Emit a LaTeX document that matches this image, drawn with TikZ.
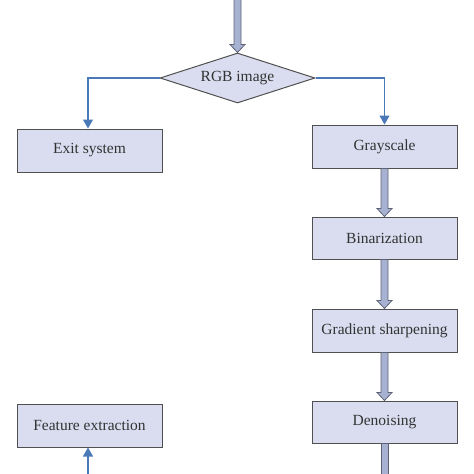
\documentclass[tikz,border=0pt]{standalone}
\usepackage{fontspec}
\setmainfont{Liberation Serif}
\usetikzlibrary{arrows.meta,shapes.geometric,calc}
\definecolor{boxfill}{HTML}{DADDF0}
\definecolor{boxline}{HTML}{505050}
\definecolor{fatfill}{HTML}{A7B1D2}
\definecolor{fatline}{HTML}{5E6274}
\definecolor{flowblue}{HTML}{4A78B8}
\newcommand{\fatarrow}[2]{\draw [fat] let \p1=(#1), \p2=(#2) in
  (\x2-3.5pt,\y1) -- (\x2-3.5pt,\y2+8pt) -- (\x2-7.5pt,\y2+8pt) -- (\x2,\y2)
  -- (\x2+7.5pt,\y2+8pt) -- (\x2+3.5pt,\y2+8pt) -- (\x2+3.5pt,\y1) -- cycle;}

\begin{document}
\begin{tikzpicture}[x=1pt,y=-1pt]
			\tikzstyle{box} = [draw=boxline, fill=boxfill, line width=1pt, minimum width=145pt, minimum height=43pt, inner sep=0pt, text=black!80, font=\fontsize{15.5}{18}\selectfont]
			\tikzstyle{dia} = [box, diamond, aspect=3.1, minimum width=155pt, minimum height=50pt]
			\tikzstyle{fat} = [draw=fatline, fill=fatfill, line width=0.8pt, line join=miter]
			\tikzstyle{es} = [draw=flowblue, line width=1.2pt, -{Triangle[width=10pt,length=9pt]}]
			\useasboundingbox (0,0) rectangle (474,474);
			\node [dia] (rgb) at (237.5,78) {RGB image};
			\node [box] (exit) at (89.5,150.5) {Exit system};
			\node [box] (gray) at (384.5,146.5) {Grayscale};
			\node [box, minimum height=42pt] (bin) at (384.5,238) {Binarization};
			\node [box] (grad) at (384.5,330.5) {Gradient sharpening};
			\node [box, minimum height=42pt] (den) at (384.5,422) {Denoising};
			\node [box] (feat) at (89.5,425.5) {Feature extraction};
			\coordinate (in) at (237.5,-2);
			\coordinate (out) at (384.5,476);
			\coordinate (back) at (88,476);
			\fatarrow{in}{rgb.north}
			\fatarrow{gray.south}{bin.north}
			\fatarrow{bin.south}{grad.north}
			\fatarrow{grad.south}{den.north}
			\draw [fat] let \p1=(den.south), \p2=(out) in (\x1-3.5pt,\y1) rectangle (\x1+3.5pt,\y2);
			\draw [es] (rgb.west) -| ($(exit.north)+(-1.5,0)$);
			\draw [es] (rgb.east) -| (gray.north);
			\draw [es] (back) -- (back |- feat.south);
		\end{tikzpicture}
\end{document}
